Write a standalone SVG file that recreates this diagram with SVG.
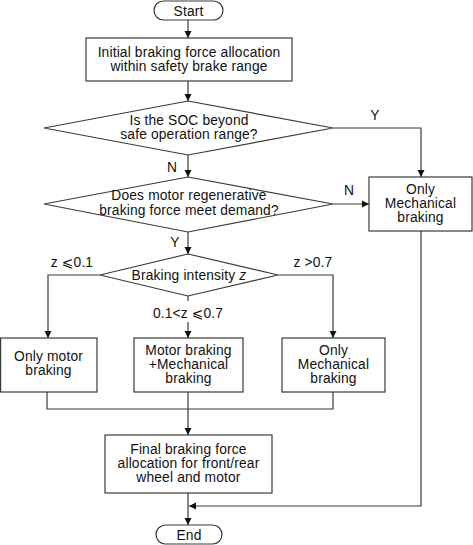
<svg xmlns="http://www.w3.org/2000/svg" width="473" height="545" viewBox="0 0 473 545">
<style>
.s{fill:#fff;stroke:#3a3a3a;stroke-width:1.2}
.c{fill:none;stroke:#3a3a3a;stroke-width:1.2}
text{font-family:"Liberation Sans","DejaVu Sans",sans-serif;font-size:13.8px;letter-spacing:0.15px;fill:#111;text-anchor:middle}
</style>
<defs>
<marker id="a" markerWidth="8" markerHeight="8" refX="7" refY="4" orient="auto" markerUnits="userSpaceOnUse">
<path d="M0,0.5 L7,4 L0,7.5 Z" fill="#111"/>
</marker>
</defs>
<rect width="473" height="545" fill="#fff"/>
<g id="connectors">
<path class="c" d="M188,20 V38" marker-end="url(#a)"/>
<path class="c" d="M188,81 V101" marker-end="url(#a)"/>
<path class="c" d="M188,155 V177" marker-end="url(#a)"/>
<path class="c" d="M333,128 H421 V177" marker-end="url(#a)"/>
<path class="c" d="M333,204 H369" marker-end="url(#a)"/>
<path class="c" d="M188,232 V254" marker-end="url(#a)"/>
<path class="c" d="M100,275 H48 V338" marker-end="url(#a)"/>
<path class="c" d="M278,275 H333 V338" marker-end="url(#a)"/>
<path class="c" d="M188,296 V301"/>
<path class="c" d="M188,322 V338" marker-end="url(#a)"/>
<path class="c" d="M47,392 V409 H333 V392"/>
<path class="c" d="M188,392 V435" marker-end="url(#a)"/>
<path class="c" d="M421,231 V506 H189" marker-end="url(#a)"/>
<path class="c" d="M188,493 V525" marker-end="url(#a)"/>
<text x="375" y="120">Y</text>
<text x="172" y="172">N</text>
<text x="349" y="195">N</text>
<text x="175" y="247">Y</text>
<text x="72" y="267">z ⩽0.1</text>
<text x="313" y="267">z &gt;0.7</text>
<text x="188" y="318">0.1&lt;z ⩽0.7</text>
</g>
<g id="start">
<rect class="s" x="154" y="1" width="69" height="19" rx="9.5"/>
<text x="188.5" y="15.5">Start</text>
</g>
<g id="init">
<rect class="s" x="86" y="38" width="206" height="43"/>
<text x="189" y="57">Initial braking force allocation</text>
<text x="189" y="71">within safety brake range</text>
</g>
<g id="soc">
<polygon class="s" points="188,101 333,128 188,155 44,128"/>
<text x="189" y="125">Is the SOC beyond</text>
<text x="189" y="139">safe operation range?</text>
</g>
<g id="regen">
<polygon class="s" points="188,177 333,204 188,232 44,204"/>
<text x="189" y="200">Does motor regenerative</text>
<text x="189" y="215">braking force meet demand?</text>
</g>
<g id="mech1">
<rect class="s" x="369" y="177" width="103" height="54"/>
<text x="420.5" y="194">Only</text>
<text x="420.5" y="208">Mechanical</text>
<text x="420.5" y="222">braking</text>
</g>
<g id="intensity">
<polygon class="s" points="188,254 278,275 188,296 100,275"/>
<text x="189" y="280">Braking intensity <tspan font-style="italic">z</tspan></text>
</g>
<g id="motor">
<rect class="s" x="0.6" y="338" width="96.4" height="54"/>
<text x="48.5" y="361">Only motor</text>
<text x="48.5" y="375">braking</text>
</g>
<g id="combo">
<rect class="s" x="134" y="338" width="109" height="54"/>
<text x="188.5" y="355">Motor braking</text>
<text x="188.5" y="369">+Mechanical</text>
<text x="188.5" y="383">braking</text>
</g>
<g id="mech2">
<rect class="s" x="282" y="338" width="103" height="54"/>
<text x="333.5" y="355">Only</text>
<text x="333.5" y="369">Mechanical</text>
<text x="333.5" y="383">braking</text>
</g>
<g id="final">
<rect class="s" x="105" y="435" width="167" height="58"/>
<text x="188.5" y="454">Final braking force</text>
<text x="188.5" y="468">allocation for front/rear</text>
<text x="188.5" y="482">wheel and motor</text>
</g>
<g id="end">
<rect class="s" x="156" y="525" width="66" height="19" rx="9.5"/>
<text x="189" y="539.5">End</text>
</g>
</svg>
